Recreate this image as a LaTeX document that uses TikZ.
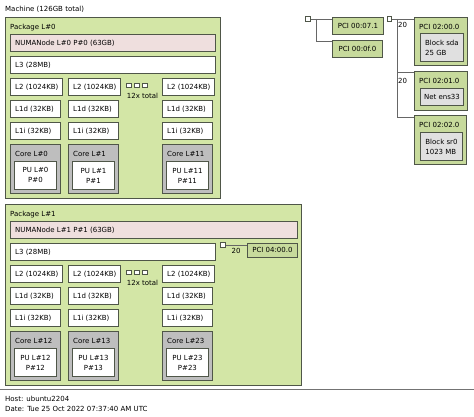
\documentclass[tikz,border=0pt]{standalone}
\usepackage{fontspec}
\setmainfont{DejaVu Sans}
\usetikzlibrary{positioning}
\definecolor{pkgfill}{HTML}{D3E6A6}
\definecolor{pcifill}{HTML}{C7DA9C}
\definecolor{numafill}{HTML}{EFDFDE}
\definecolor{corefill}{HTML}{BEBEBE}
\definecolor{osfill}{HTML}{E0E0E0}
\definecolor{edge}{HTML}{4F5648}
\begin{document}
\begin{tikzpicture}[x=1pt,y=-1pt,font=\fontsize{7}{8.4}\selectfont,
    box/.style={draw=edge,line width=0.9pt,anchor=north west,inner sep=0pt},
    cache/.style={box,fill=white,minimum height=17pt},
    tl/.style={label={[anchor=north west,inner sep=0pt,xshift=5pt,yshift=-6.8pt]north west:#1}},
    ml/.style={label={[anchor=west,inner sep=0pt,xshift=5pt]west:#1}},
    twoline/.style={align=center,font=\fontsize{7}{10}\selectfont},
    sq/.style={draw=edge,fill=white,line width=0.6pt,minimum size=4.5pt,inner sep=0pt},
    pcilink/.style={draw=black!60,line width=0.8pt}]

  \useasboundingbox[fill=white] (0,0) rectangle (474,417);

  \node[anchor=west,inner sep=0pt] (machine) at (5,9.5) {Machine (126GB total)};

  % the two packages
  \foreach \p/\dy/\pw/\nw/\ca/\cb/\cc in {0/0/215/205/0/1/11, 1/187/296/287/12/13/23}{
    \node[box,fill=pkgfill,minimum width=\pw pt,minimum height=181pt,tl={Package L\#\p}] (pkg\p) at (5,17+\dy) {};
    \node[cache,fill=numafill,minimum width=\nw pt,ml={NUMANode L\#\p\ P\#\p\ (63GB)}] (numa\p) at (10,34+\dy) {};
    \node[cache,minimum width=205pt,ml={L3 (28MB)}] (lthree\p) at (10,56+\dy) {};
    \foreach \col/\x/\cn in {a/10/\ca, b/68/\cb, c/162/\cc}{
      \node[cache,minimum width=52pt,ml={L2 (1024KB)}] (ltwo\p\col) at (\x,78+\dy) {};
      \node[cache,minimum width=50pt,ml={L1d (32KB)}] (lonea\p\col) at (\x,100+\dy) {};
      \node[cache,minimum width=50pt,ml={L1i (32KB)}] (lonei\p\col) at (\x,122+\dy) {};
      \node[box,fill=corefill,minimum width=50pt,minimum height=49pt,tl={Core L\#\cn}] (core\p\col) at (\x,144+\dy) {};
      \node[box,fill=white,minimum width=42pt,minimum height=28pt,twoline] (pu\p\col) at (\x+4,161+\dy) {PU L\#\cn\\P\#\cn};
    }
    \foreach \k in {0,1,2}
      \node[sq] (dot\p\k) at (129+8*\k,85.3+\dy) {};
    \node[inner sep=0pt] (more\p) at (142.5,95.7+\dy) {12x total};
  }

  % pci behind package 1
  \node[sq] (hbfour) at (223,245) {};
  \node[box,fill=pcifill,minimum width=50pt,minimum height=14pt] (pcifour) at (247,243) {PCI 04:00.0};
  \draw[pcilink] (hbfour.east) -- (hbfour -| pcifour.west);
  \node[inner sep=0pt] (spfour) at (236,250.7) {20};

  % host bridges on the right
  \node[sq] (hbone) at (308,19) {};
  \coordinate (brone) at (316,19);
  \node[box,fill=pcifill,minimum width=51pt,minimum height=17pt] (pcisevn) at (332,17) {PCI 00:07.1};
  \node[box,fill=pcifill,minimum width=50pt,minimum height=17pt] (pcif) at (332,40) {PCI 00:0f.0};
  \draw[pcilink] (hbone.east) -- (hbone -| pcisevn.west);
  \draw[pcilink] (brone) |- ([yshift=-1.5pt]pcif.north west);

  \node[sq] (hbtwo) at (389.5,19) {};
  \coordinate (brtwo) at (397,19);
  \node[box,fill=pcifill,minimum width=53pt,minimum height=48pt,tl={PCI 02:00.0}] (pcia) at (414,17) {};
  \node[box,fill=osfill,minimum width=43pt,minimum height=28pt,twoline,align=left] (sda) at (420,33) {Block sda\\25 GB};
  \node[box,fill=pcifill,minimum width=53pt,minimum height=39pt,tl={PCI 02:01.0}] (pcib) at (414,71) {};
  \node[box,fill=osfill,minimum width=43pt,minimum height=17pt] (net) at (420,88) {Net ens33};
  \node[box,fill=pcifill,minimum width=52pt,minimum height=49pt,tl={PCI 02:02.0}] (pcic) at (414,115) {};
  \node[box,fill=osfill,minimum width=42pt,minimum height=28pt,twoline,align=left] (srzero) at (420,132) {Block sr0\\1023 MB};
  \draw[pcilink] (hbtwo.east) -- ([yshift=-2pt]pcia.north west);
  \draw[pcilink] (brtwo) |- ([yshift=-2pt]pcic.north west);
  \draw[pcilink] ([yshift=-1.5pt]pcib.north west) -| (brtwo);
  \node[inner sep=0pt] (spa) at (402.5,25) {20};
  \node[inner sep=0pt] (spb) at (402.5,80.7) {20};

  % legend
  \draw[black!55,line width=1pt] (0,389.3) -- (474,389.3);
  \node[anchor=west,inner sep=0pt] (host) at (5,399.3) {Host: ubuntu2204};
  \node[anchor=west,inner sep=0pt] (date) at (5,409) {Date: Tue 25 Oct 2022 07:37:40 AM UTC};

\end{tikzpicture}
\end{document}
